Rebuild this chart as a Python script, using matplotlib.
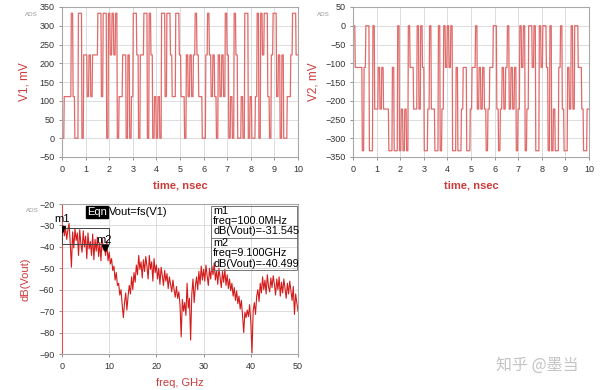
import numpy as np
import matplotlib
matplotlib.use("Agg")
import matplotlib.pyplot as plt
from matplotlib.patches import Rectangle
from matplotlib.lines import Line2D

plt.rcParams['font.family'] = ['Liberation Sans', 'DejaVu Sans']

## data
# PAM4 symbols read off the V1 / V2 traces (75 ps per symbol), level step = 111.1 mV
symbol_time = 0.075
level_step = 111.1
v1_symbols = [0, 1, 1, 1, 1, 3, 1, 0, 0, 3, 3, 0, 2, 2, 1, 2, 1, 2, 2, 2,
              3, 3, 1, 3, 3, 0, 3, 2, 3, 2, 3, 0, 1, 1, 2, 2, 0, 2, 0, 1,
              3, 3, 2, 0, 2, 2, 3, 3, 0, 3, 2, 0, 1, 0, 1, 0, 3, 3, 1, 3,
              3, 2, 1, 1, 3, 3, 2, 1, 1, 0, 2, 1, 2, 1, 2, 3, 2, 1, 1, 0,
              0, 2, 3, 2, 1, 2, 1, 0, 2, 1, 2, 1, 3, 2, 0, 1, 0, 3, 2, 0,
              0, 1, 0, 3, 3, 0, 1, 0, 0, 1, 3, 0, 3, 2, 3, 3, 1, 0, 2, 3,
              3, 1, 2, 0, 2, 0, 0, 1, 1, 2, 3, 3, 2, 2]
v2_symbols = [0, -1, -1, -1, -1, -3, -1, 0, 0, -3, -3, 0, -2, -2, -1, -2, -1, -2, -2, -2,
              -3, -3, -1, -3, -3, 0, -3, -2, -3, -2, -3, 0, -1, -1, -2, -2, 0, -2, 0, -1,
              -3, -3, -2, 0, -2, -2, -3, -3, 0, -3, -2, 0, -1, 0, -1, 0, -3, -3, -1, -3,
              -3, -2, -1, -1, -3, -3, -2, -1, -1, 0, -2, -1, -2, -1, -2, -3, -2, -1, -1, 0,
              0, -2, -3, -2, -1, -2, -1, 0, -2, -1, -2, -1, -3, -2, 0, -1, 0, -3, -2, 0,
              0, -1, 0, -3, -3, 0, -1, 0, 0, -1, -3, 0, -3, -2, -3, -3, -1, 0, -2, -3,
              -3, -1, -2, 0, -2, 0, 0, -1, -1, -2, -3, -3, -2, -2]

# dB(Vout), 0..50 GHz in 0.25 GHz steps
freq_step = 0.25
vout_db = [-31.5, -30.2, -34.8, -31.0, -36.5, -32.0, -29.0, -38.5,
           -49.5, -33.0, -40.5, -31.5, -37.0, -33.5, -44.0, -32.0,
           -38.5, -42.5, -32.5, -40.0, -35.0, -45.5, -33.5, -41.0,
           -37.5, -44.0, -34.0, -46.0, -36.5, -42.0, -35.5, -44.5,
           -38.0, -46.5, -36.0, -41.5, -40.5, -44.0, -37.5, -46.5,
           -42.5, -48.0, -45.5, -51.0, -49.0, -55.5, -52.0, -58.0,
           -57.0, -62.5, -60.0, -67.0, -73.0, -66.0, -61.5, -69.5,
           -63.0, -58.0, -62.0, -54.0, -60.0, -52.0, -56.5, -48.5,
           -53.0, -44.0, -50.5, -47.0, -54.5, -46.0, -51.5, -44.5,
           -49.0, -55.0, -44.0, -50.5, -47.0, -56.0, -45.5, -52.0,
           -48.5, -55.0, -50.0, -57.5, -49.5, -53.5, -58.0, -51.0,
           -56.0, -52.5, -59.5, -54.0, -57.5, -61.0, -55.5, -60.0,
           -63.5, -58.5, -64.0, -61.0, -67.0, -82.0, -64.5, -70.0,
           -66.0, -72.0, -57.0, -68.5, -64.0, -83.5, -62.0, -55.0,
           -66.0, -58.5, -54.0, -60.0, -51.5, -57.5, -49.0, -55.5,
           -50.5, -56.0, -48.5, -53.5, -58.0, -50.0, -55.0, -49.0,
           -53.0, -47.5, -55.5, -51.0, -57.5, -50.0, -54.5, -59.0,
           -51.5, -56.5, -50.5, -58.0, -53.0, -59.5, -55.0, -60.5,
           -57.0, -63.0, -59.0, -65.0, -60.5, -66.5, -63.0, -69.0,
           -65.0, -72.0, -80.0, -70.5, -73.0, -69.5, -72.5, -67.0,
           -75.0, -89.5, -70.0, -66.0, -71.5, -63.0, -60.0, -65.5,
           -57.0, -61.5, -54.0, -60.0, -55.5, -62.0, -53.0, -58.5,
           -61.0, -54.5, -59.0, -53.5, -57.5, -62.5, -55.0, -60.0,
           -54.0, -63.0, -56.5, -61.5, -55.0, -59.5, -64.0, -57.0,
           -62.0, -56.0, -60.5, -65.0, -58.5, -71.5, -62.0, -66.0,
           -70.0]

# markers
m1_freq, m1_db = 0.1, -31.545
m2_freq, m2_db = 9.1, -40.499

## styles
trace_color = "#e06a6a"
spec_color = "#d41c1c"
label_color = "#cc3b3b"
grid_color = "#dcdcdc"
spine_color = "#a8a8a8"
rise = 0.02


def pam_wave(symbols):
    # piecewise linear waveform with a short edge at the start of every symbol
    t = [0.0]
    v = [symbols[0] * level_step]
    for i, s in enumerate(symbols):
        t.append(i * symbol_time + rise)
        v.append(s * level_step)
        t.append((i + 1) * symbol_time)
        v.append(s * level_step)
    return np.array(t), np.array(v)


def style_axes(ax):
    ax.grid(True, color=grid_color, linewidth=0.7)
    ax.set_axisbelow(True)
    for side in ax.spines:
        ax.spines[side].set_color(spine_color)
        ax.spines[side].set_linewidth(0.8)
    ax.tick_params(labelsize=6.5, length=2.5, width=0.6, color="#808080",
                   labelcolor="#333333", pad=3)


fig = plt.figure(figsize=(6, 3.9), dpi=100)

# top left: V1
ax1 = fig.add_axes([62 / 600, 1 - 157 / 390, 236 / 600, 150 / 390])
t1, w1 = pam_wave(v1_symbols)
ax1.plot(t1, w1, color=trace_color, linewidth=0.9)
ax1.set_xlim(0, 10)
ax1.set_ylim(-50, 350)
ax1.set_xticks(range(0, 11))
ax1.set_yticks(range(-50, 351, 50))
style_axes(ax1)
ax1.set_xlabel("time, nsec", color=label_color, fontsize=8, fontweight="bold", labelpad=5)
ax1.set_ylabel("V1, mV", color=label_color, fontsize=8.5, labelpad=6)

# top right: V2
ax2 = fig.add_axes([353 / 600, 1 - 157 / 390, 236 / 600, 150 / 390])
t2, w2 = pam_wave(v2_symbols)
ax2.plot(t2, w2, color=trace_color, linewidth=0.9)
ax2.set_xlim(0, 10)
ax2.set_ylim(-350, 50)
ax2.set_xticks(range(0, 11))
ax2.set_yticks(range(-350, 51, 50))
style_axes(ax2)
ax2.set_xlabel("time, nsec", color=label_color, fontsize=8, fontweight="bold", labelpad=5)
ax2.set_ylabel("V2, mV", color=label_color, fontsize=8.5, labelpad=4)

# bottom: spectrum
ax3 = fig.add_axes([62 / 600, 1 - 354 / 390, 236 / 600, 150 / 390])
freqs = np.arange(len(vout_db)) * freq_step
ax3.plot(freqs, vout_db, color=spec_color, linewidth=0.8)
ax3.set_xlim(0, 50)
ax3.set_ylim(-90, -20)
ax3.set_xticks(range(0, 51, 10))
ax3.set_yticks(range(-90, -19, 10))
style_axes(ax3)
ax3.spines["left"].set_color("#e05050")
ax3.set_xlabel("freq, GHz", color=label_color, fontsize=8, labelpad=5)
ax3.set_ylabel("dB(Vout)", color=label_color, fontsize=8, labelpad=6)

# marker box and markers
ax3.add_patch(Rectangle((0, -38.8), 10, 7.5, fill=False, edgecolor="#444444",
                        linewidth=0.7, zorder=4))
ax3.plot([m1_freq, m2_freq], [m1_db, m2_db], linestyle="none", marker="v",
         markersize=4, color="black", zorder=5)
ax3.text(m1_freq - 0.1, m1_db + 2.2, "m1", fontsize=8, ha="center", va="bottom", zorder=6)
ax3.text(m2_freq - 0.2, m2_db + 1.2, "m2", fontsize=8, ha="center", va="bottom", zorder=6)

# equation
fig.text(87 / 600, 1 - 212 / 390, "Eqn", color="white", fontsize=8, va="center",
         bbox=dict(facecolor="black", edgecolor="black", pad=0.8))
fig.text(108.5 / 600, 1 - 212 / 390, "Vout=fs(V1)", color="black", fontsize=8, va="center")

# marker readout
fig.patches.append(Rectangle((211 / 600, 1 - 270 / 390), 86 / 600, 64 / 390,
                             transform=fig.transFigure, fill=False,
                             edgecolor="#777777", linewidth=0.7))
fig.lines.append(Line2D([211 / 600, 297 / 600], [1 - 238 / 390, 1 - 238 / 390],
                        transform=fig.transFigure, color="#777777", linewidth=0.7))
readout = ["m1", "freq=100.0MHz", "dB(Vout)=%.3f" % m1_db,
           "m2", "freq=9.100GHz", "dB(Vout)=%.3f" % m2_db]
rows_y = [211, 221, 231, 243, 253, 264]
for txt, yy in zip(readout, rows_y):
    fig.text(213 / 600, 1 - yy / 390, txt, fontsize=7.8, va="center", color="black")

# little ADS tags
for x, y in [(25, 14), (317, 14), (26, 211)]:
    fig.text(x / 600, 1 - y / 390, "ADS", fontsize=4.5, color="#9a9a9a", va="center")

# watermark
fig.text(537 / 600, 1 - 365 / 390, "知乎 @墨当", fontsize=11.5, color="#c4c4c4",
         ha="center", va="center", family=["Noto Sans CJK SC", "DejaVu Sans"])

fig.savefig("out.png", dpi=100)
